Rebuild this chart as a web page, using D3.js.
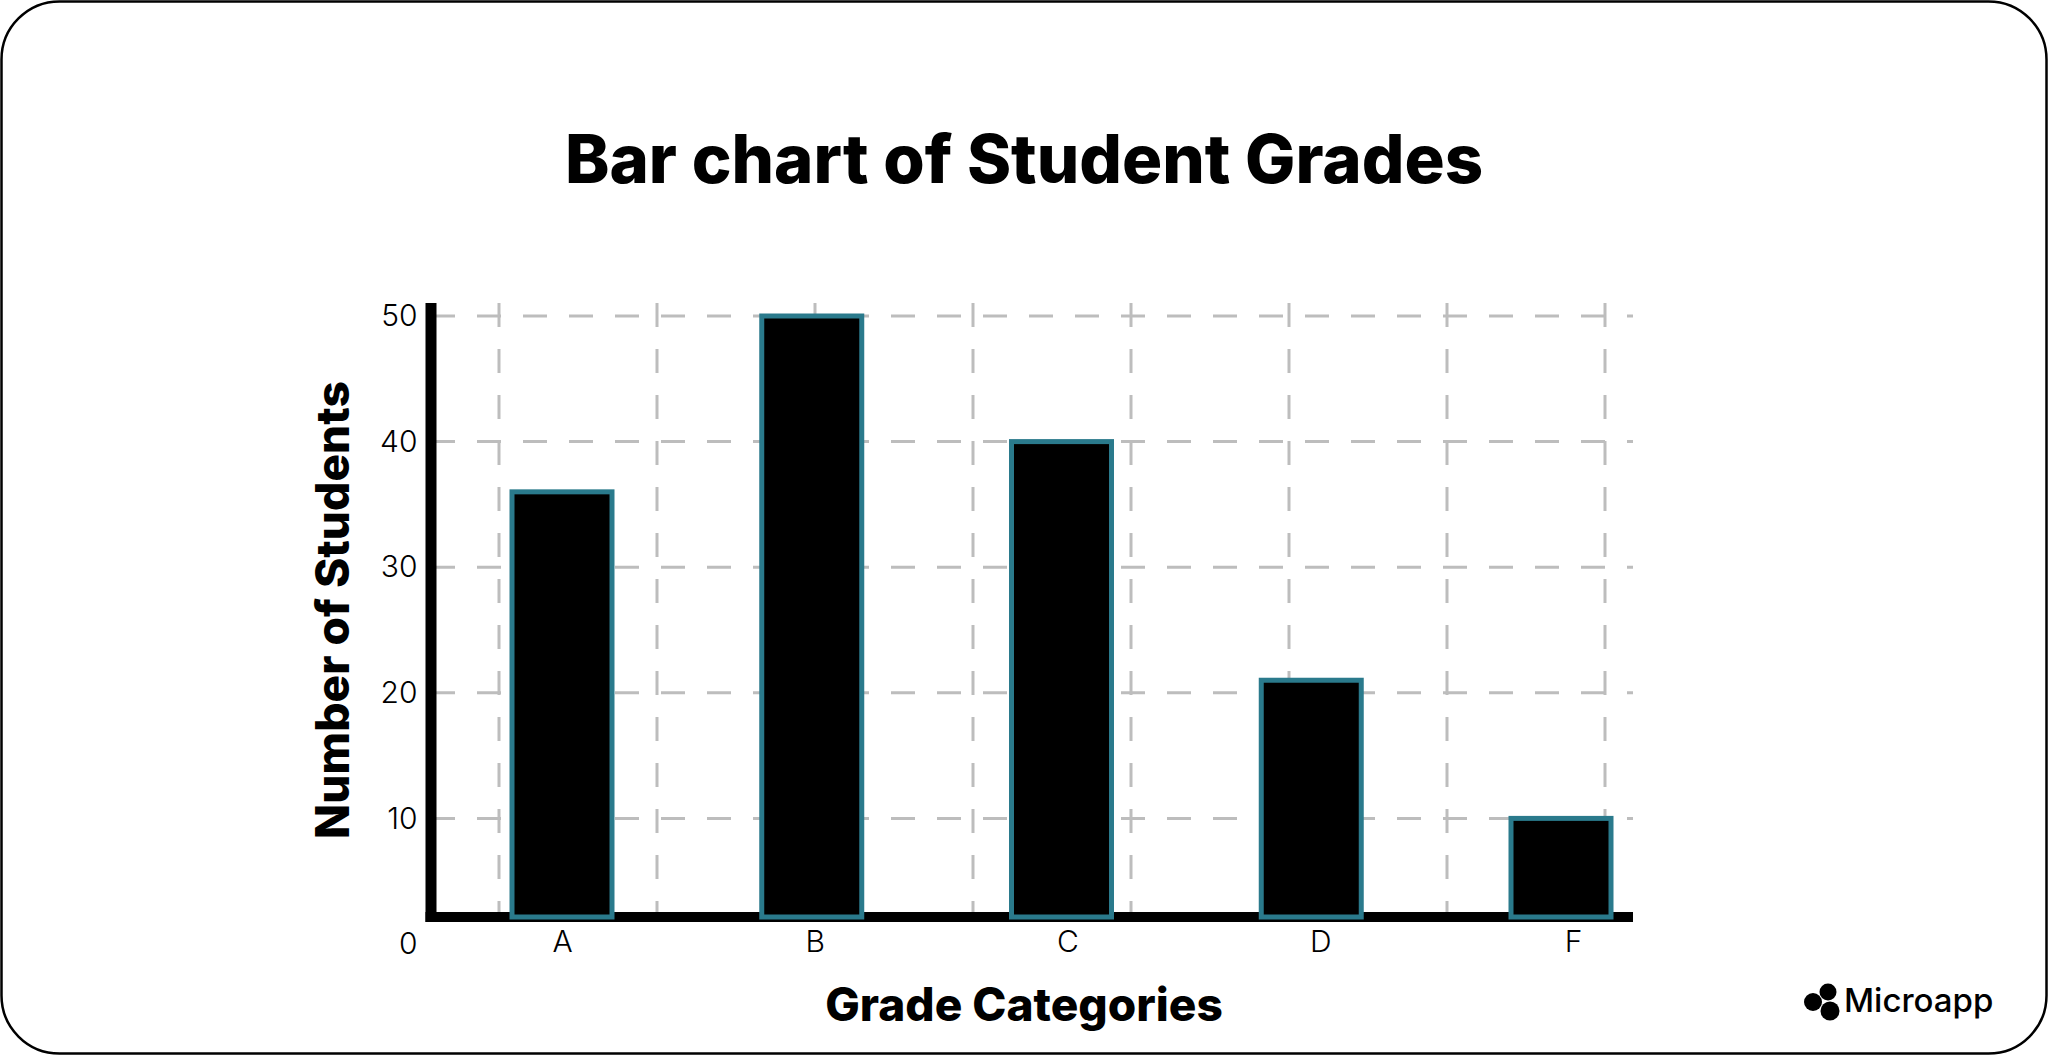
<!DOCTYPE html>
<html>
<head>
<meta charset="utf-8">
<script src="https://cdn.jsdelivr.net/npm/d3@7"></script>
<style>
  html, body { margin: 0; padding: 0; background: #ffffff; }
  svg { display: block; }
  text { font-family: Inter, "Noto Sans", sans-serif; fill: #000; }
</style>
</head>
<body>
<div id="chart"></div>
<script>
// data
var grades = ["A", "B", "C", "D", "F"];
var students = [36, 50, 40, 21, 10];
var yTicks = [0, 10, 20, 30, 40, 50];

var W = 2048, H = 1055;
var plot = {left: 431, right: 1633, top: 303, base: 917};

var svg = d3.select("#chart").append("svg")
    .attr("width", W)
    .attr("height", H);

// card
svg.append("rect")
    .attr("x", 1.5).attr("y", 1.5)
    .attr("width", W - 3).attr("height", H - 3)
    .attr("rx", 58)
    .attr("fill", "#fff")
    .attr("stroke", "#000")
    .attr("stroke-width", 2.5);

// title
svg.append("text")
    .attr("x", W / 2).attr("y", 183)
    .attr("text-anchor", "middle")
    .style("font-size", "67px").style("font-weight", 800)
    .text("Bar chart of Student Grades");

// scales
var y = d3.scaleLinear().domain([0, 50]).range([944, 316]);
var x = d3.scalePoint().domain(grades).range([562, 1561]);
var xLab = d3.scalePoint().domain(grades).range([562, 1573]);
var gx = d3.scaleLinear().domain([0, 7]).range([499, 1605]);
var barW = 100;

// grid
var grid = svg.append("g")
    .attr("stroke", "#bdbdbd")
    .attr("stroke-width", 3)
    .attr("stroke-dasharray", "24,22");

grid.selectAll(".h").data(yTicks.filter(function(d){ return d > 0; }))
  .enter().append("line")
    .attr("x1", plot.left).attr("x2", plot.right)
    .attr("y1", function(d){ return y(d); })
    .attr("y2", function(d){ return y(d); });

grid.selectAll(".v").data(d3.range(8))
  .enter().append("line")
    .attr("x1", function(d){ return gx(d); })
    .attr("x2", function(d){ return gx(d); })
    .attr("y1", plot.top).attr("y2", plot.base - 5);

// axis lines
svg.append("rect")
    .attr("x", plot.left - 5.5).attr("y", plot.top)
    .attr("width", 11).attr("height", plot.base + 5 - plot.top)
    .attr("fill", "#000");
svg.append("rect")
    .attr("x", plot.left - 5.5).attr("y", plot.base - 5)
    .attr("width", plot.right - plot.left + 5.5).attr("height", 10)
    .attr("fill", "#000");

// bars
svg.selectAll(".bar").data(students)
  .enter().append("rect")
    .attr("class", "bar")
    .attr("x", function(d, i){ return x(grades[i]) - barW / 2; })
    .attr("y", function(d){ return y(d); })
    .attr("width", barW)
    .attr("height", function(d){ return plot.base - y(d); })
    .attr("fill", "#000")
    .attr("stroke", "#2a7a8c")
    .attr("stroke-width", 5);

// tick labels
var yAxis = svg.append("g")
    .attr("transform", "translate(" + (plot.left - 5.5) + ",0)")
    .call(d3.axisLeft(y).tickValues(yTicks).tickSize(0).tickPadding(8));
yAxis.select(".domain").remove();
yAxis.selectAll("text")
    .style("font-family", "Inter, sans-serif")
    .style("font-size", "30px").style("font-weight", 300).attr("fill", "#000");

var xAxis = svg.append("g")
    .attr("transform", "translate(0,931)")
    .call(d3.axisBottom(xLab).tickSize(0).tickPadding(0));
xAxis.select(".domain").remove();
xAxis.selectAll("text")
    .style("font-family", "Inter, sans-serif")
    .style("font-size", "30px").style("font-weight", 300).attr("fill", "#000");

// axis titles
svg.append("text")
    .attr("transform", "translate(349,610) rotate(-90)")
    .attr("text-anchor", "middle")
    .style("font-size", "46px").style("font-weight", 800)
    .text("Number of Students");

svg.append("text")
    .attr("x", W / 2).attr("y", 1021)
    .attr("text-anchor", "middle")
    .style("font-size", "46px").style("font-weight", 800)
    .text("Grade Categories");

// logo
var logo = svg.append("g");
logo.append("circle").attr("cx", 1828).attr("cy", 992).attr("r", 8.5);
logo.append("circle").attr("cx", 1813).attr("cy", 1002).attr("r", 9);
logo.append("circle").attr("cx", 1830).attr("cy", 1011).attr("r", 9.5);
logo.append("text")
    .attr("x", 1844).attr("y", 1012)
    .style("font-size", "33px").style("font-weight", 500)
    .text("Microapp");
</script>
</body>
</html>
